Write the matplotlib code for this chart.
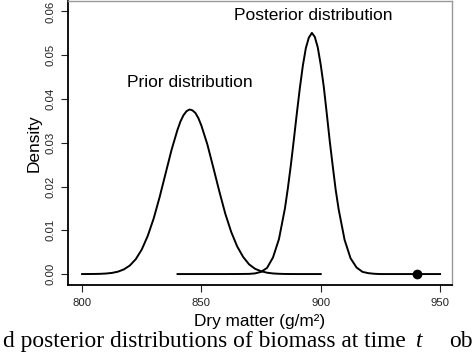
import matplotlib
matplotlib.use("Agg")
import matplotlib.pyplot as plt

# densities
prior_x = [800, 802.5, 805, 807.5, 810, 812.5, 815, 817.5, 820, 822.5, 825, 827.5,
           830, 832.5, 835, 837.5, 840, 841.25, 842.5, 843.75, 845, 846.25, 847.5,
           848.75, 850, 852.5, 855, 857.5, 860, 862.5, 865, 867.5, 870, 872.5, 875,
           877.5, 880, 882.5, 885, 890, 895, 900]
prior_y = [0.0, 0.00001, 0.00002, 0.00005, 0.00012, 0.00026, 0.00054, 0.00106, 0.00195,
           0.0034, 0.0056, 0.0087, 0.0127, 0.0176, 0.0230, 0.0284, 0.0330, 0.0349,
           0.0363, 0.0372, 0.0376, 0.0374, 0.0368, 0.0356, 0.0339, 0.0296, 0.0243,
           0.0189, 0.0138, 0.0096, 0.0063, 0.0039, 0.0022, 0.0012, 0.00064, 0.00031,
           0.00014, 0.00006, 0.00002, 0.0, 0.0, 0.0]

post_x = [840, 850, 860, 865, 870, 872.5, 875, 877.5, 880, 882.5, 885, 886.25, 887.5,
          888.75, 890, 891.25, 892.5, 893.75, 895, 896.3, 897.5, 898.75, 900, 901.25,
          902.5, 903.75, 905, 906.25, 907.5, 910, 912.5, 915, 917.5, 920, 922.5, 925,
          930, 940, 950]
post_y = [0.0, 0.0, 0.0, 0.00001, 0.00004, 0.00015, 0.0005, 0.0014, 0.0038, 0.0080,
          0.0150, 0.0197, 0.0250, 0.0308, 0.0368, 0.0425, 0.0476, 0.0516, 0.0540,
          0.0551, 0.0542, 0.0518, 0.0478, 0.0429, 0.0368, 0.0305, 0.0248, 0.0193,
          0.0148, 0.0078, 0.0036, 0.0015, 0.0005, 0.0002, 0.00006, 0.0, 0.0, 0.0, 0.0]

observed_x = [940.3]
observed_y = [0.0]

x_ticks = [800, 850, 900, 950]
y_ticks = [0.00, 0.01, 0.02, 0.03, 0.04, 0.05, 0.06]

plt.rcParams['font.family'] = ['Liberation Sans', 'DejaVu Sans']

fig = plt.figure(figsize=(4.74, 3.53), dpi=100)
ax = fig.add_axes([68 / 474, 68 / 353, 384 / 474, 284.5 / 353])

ax.plot(prior_x, prior_y, color='black', lw=1.4)
ax.plot(post_x, post_y, color='black', lw=1.4)
ax.plot(observed_x, observed_y, 'o', color='black', ms=6)

ax.text(845, 0.0438, "Prior distribution", ha='center', va='center', fontsize=12.5)
ax.text(896.8, 0.0591, "Posterior distribution", ha='center', va='center', fontsize=12.5)

ax.set_xlim(794.1, 955.0)
ax.set_ylim(-0.0025, 0.0625)
ax.set_xticks(x_ticks)
ax.set_yticks(y_ticks)
ax.set_xticklabels([str(t) for t in x_ticks], fontsize=8.2, color='#222222')
ax.set_yticklabels(["%.2f" % t for t in y_ticks], fontsize=8.2, color='#222222',
                   rotation=90, va='center')
ax.tick_params(axis='both', direction='out', length=5, width=0.8, colors='#222222')
ax.tick_params(axis='x', pad=4)
ax.tick_params(axis='y', pad=4)

for side in ['left', 'bottom']:
    ax.spines[side].set_color('black')
    ax.spines[side].set_linewidth(1.3)
for side in ['top', 'right']:
    ax.spines[side].set_color('#999999')
    ax.spines[side].set_linewidth(1.0)

ax.set_xlabel("Dry matter (g/m²)", fontsize=12.4, labelpad=5)
ax.set_ylabel("Density", fontsize=12.4, labelpad=3)

# caption of the paper figure (only partly inside the crop)
cap = dict(fontsize=16.8, family='Liberation Serif', va='baseline')
fig.text(3 / 474, 6 / 353, "d posterior distributions of biomass at time", ha='left', **cap)
fig.text(416 / 474, 6 / 353, "t", style='italic', ha='left', **cap)
fig.text(449 / 474, 6 / 353, "ob", ha='left', **cap)

fig.savefig("out.png", dpi=100)
